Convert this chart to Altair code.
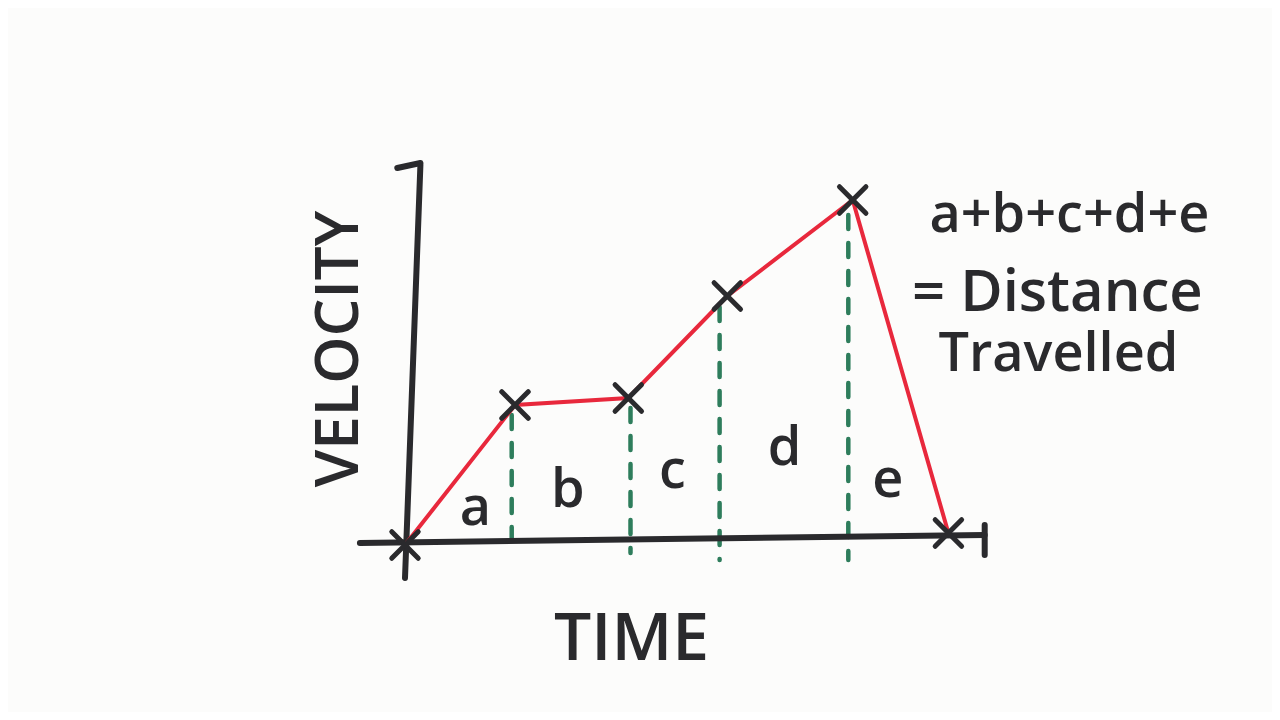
import altair as alt
import pandas as pd

# --- data ---
time = [0.0, 1.0, 2.03, 2.93, 4.07, 4.94]
velocity = [0.0, 1.40, 1.47, 2.49, 3.45, 0.12]

dash_time = [0.97, 2.05, 2.86, 4.03]
dash_top = [1.30, 1.37, 2.38, 3.30]
dash_bottom = [-0.10, -0.08, -0.15, -0.15]

area_labels = ["a", "b", "c", "d", "e"]
label_time = [0.64, 1.48, 2.43, 3.45, 4.39]
label_vel = [0.20, 0.38, 0.57, 0.80, 0.48]

note_text = ["a+b+c+d+e", "= Distance", "Travelled"]
note_time = [6.04, 5.93, 5.94]
note_vel = [3.13, 2.34, 1.74]
note_size = [54, 58, 54]

# hand-drawn axis strokes: (x1, y1) -> (x2, y2)
axis_x1 = [-0.41, 0.0, -0.07, 5.27]
axis_y1 = [0.02, -0.33, 3.77, 0.20]
axis_x2 = [5.27, 0.14, 0.14, 5.27]
axis_y2 = [0.10, 3.80, 3.82, -0.10]

XDOM = [-3.6091, 7.8818]
YDOM = [-1.67, 5.37]

INK = "#2a2a2d"
RED = "#e8283c"
GREEN = "#2e7d5c"
FONT = "Open Sans"
WEIGHT = 600

xs = alt.Scale(domain=XDOM, nice=False, zero=False)
ys = alt.Scale(domain=YDOM, nice=False, zero=False)

pts = pd.DataFrame({"t": time, "v": velocity, "o": list(range(len(time)))})
dashes = pd.DataFrame({"t": dash_time, "top": dash_top, "bot": dash_bottom})
labels = pd.DataFrame({"t": label_time, "v": label_vel, "s": area_labels})
notes = pd.DataFrame({"t": note_time, "v": note_vel, "s": note_text, "fs": note_size})
axes = pd.DataFrame({"x1": axis_x1, "y1": axis_y1, "x2": axis_x2, "y2": axis_y2})

axis_rules = alt.Chart(axes).mark_rule(color=INK, strokeWidth=6, strokeCap="round").encode(
    x=alt.X("x1:Q", scale=xs, axis=None),
    y=alt.Y("y1:Q", scale=ys, axis=None),
    x2="x2:Q",
    y2="y2:Q",
)

dash_rules = alt.Chart(dashes).mark_rule(
    color=GREEN, strokeWidth=4.5, strokeDash=[14, 14], strokeCap="round"
).encode(
    x=alt.X("t:Q", scale=xs, axis=None),
    y=alt.Y("top:Q", scale=ys, axis=None),
    y2="bot:Q",
)

line = alt.Chart(pts).mark_line(color=RED, strokeWidth=4).encode(
    x=alt.X("t:Q", scale=xs, axis=None),
    y=alt.Y("v:Q", scale=ys, axis=None),
    order="o:Q",
)

crosses = alt.Chart(pts).mark_point(
    shape="M-1,-1L1,1M-1,1L1,-1", filled=False, color=INK, strokeWidth=5,
    size=700, opacity=1, strokeCap="round"
).encode(
    x=alt.X("t:Q", scale=xs, axis=None),
    y=alt.Y("v:Q", scale=ys, axis=None),
)

area_text = alt.Chart(labels).mark_text(
    font=FONT, fontSize=54, fontWeight=WEIGHT, color=INK, align="center", baseline="alphabetic"
).encode(
    x=alt.X("t:Q", scale=xs, axis=None),
    y=alt.Y("v:Q", scale=ys, axis=None),
    text="s:N",
)

note_marks = alt.Chart(notes).mark_text(
    font=FONT, fontWeight=WEIGHT, color=INK, align="center", baseline="alphabetic"
).encode(
    x=alt.X("t:Q", scale=xs, axis=None),
    y=alt.Y("v:Q", scale=ys, axis=None),
    text="s:N",
    size=alt.Size("fs:Q", scale=None, legend=None),
)

titles = pd.DataFrame({
    "t": [2.06, -0.43],
    "v": [-1.15, 1.96],
    "s": ["TIME", "VELOCITY"],
    "a": [0, 270],
    "fs": [66, 60],
})
title_marks = alt.Chart(titles).mark_text(
    font=FONT, fontWeight=WEIGHT, color=INK, align="center", baseline="alphabetic"
).encode(
    x=alt.X("t:Q", scale=xs, axis=None),
    y=alt.Y("v:Q", scale=ys, axis=None),
    text="s:N",
    angle=alt.Angle("a:Q", scale=None),
    size=alt.Size("fs:Q", scale=None, legend=None),
)

chart = alt.layer(
    dash_rules, axis_rules, line, crosses, area_text, note_marks, title_marks
).properties(
    width=1264,
    height=704,
    background="#fcfcfb",
    padding=0,
    autosize=alt.AutoSizeParams(type="fit", contains="padding"),
).configure_view(stroke=None)

chart.save("out.html", embed_options={"renderer": "svg", "actions": False})
